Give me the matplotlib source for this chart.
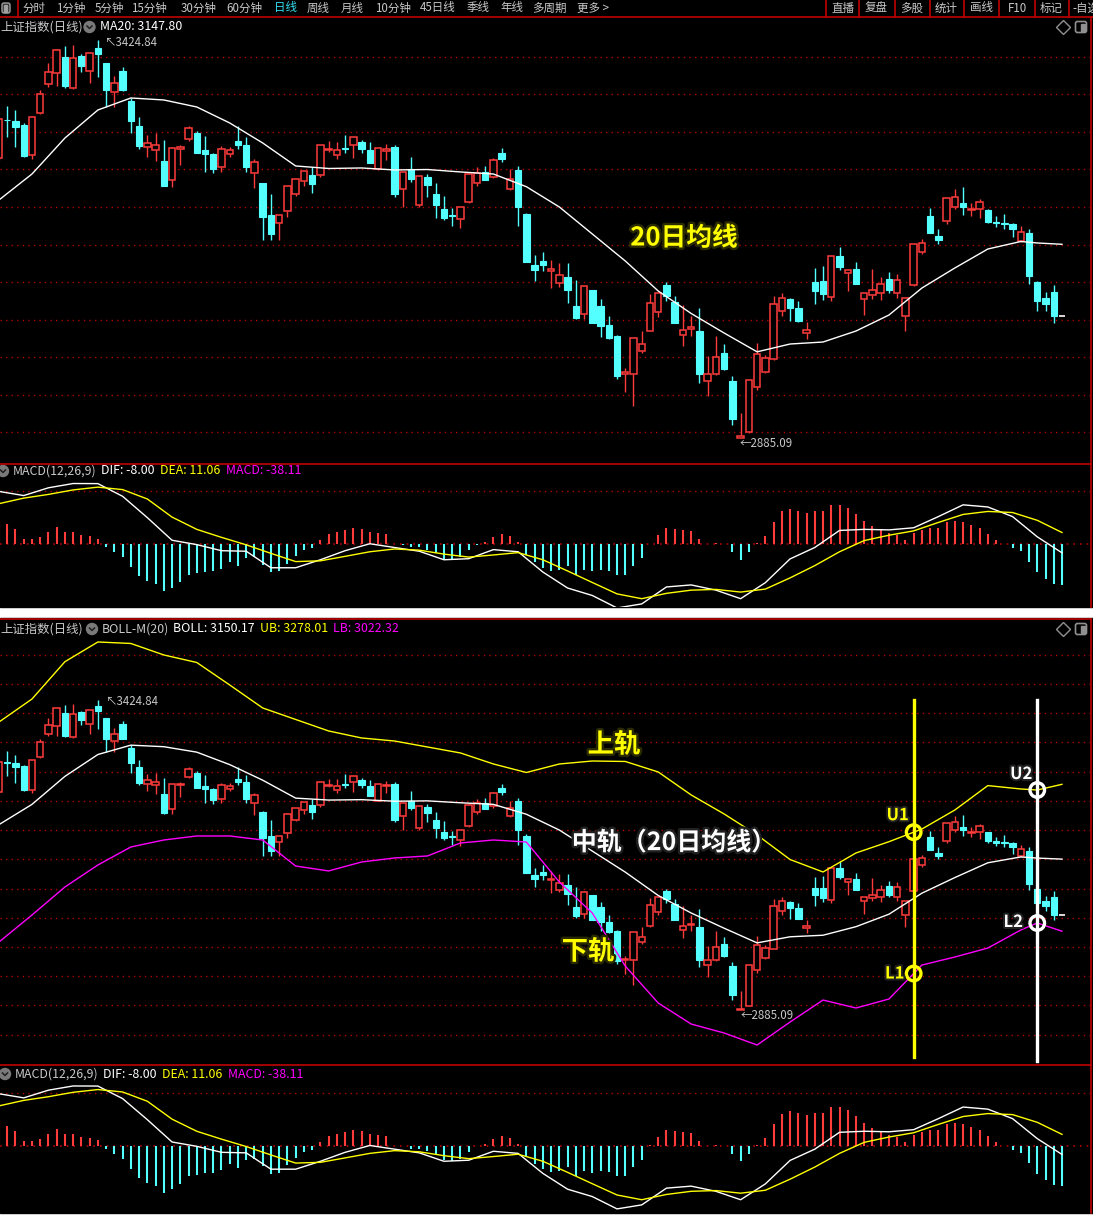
import numpy as np
import matplotlib
matplotlib.use('Agg')
import matplotlib.pyplot as plt
from matplotlib.patches import Rectangle, Circle, FancyBboxPatch
import matplotlib.patheffects as pe

plt.rcParams['font.family'] = ['Noto Sans CJK SC', 'DejaVu Sans']

W, H = 1093, 1221

# ---------------- daily candles (上证指数 日线) ----------------
opens = [3264.4, 3317.0, 3315.0, 3309.6, 3268.5, 3325.5, 3364.8, 3379.7, 3401.4, 3360.2,
         3403.2, 3383.2, 3413.6, 3393.3, 3353.9, 3382.4, 3342.1, 3308.2, 3279.4, 3276.1,
         3260.8, 3234.6, 3277.5, 3291.0, 3298.3, 3275.7, 3270.3, 3253.1, 3270.7, 3287.9,
         3282.1, 3244.9, 3230.5, 3187.6, 3177.1, 3193.4, 3216.0, 3234.1, 3241.8, 3242.2,
         3275.3, 3268.5, 3278.4, 3282.1, 3286.1, 3275.7, 3249.5, 3274.3, 3279.4, 3222.4,
         3249.5, 3201.5, 3238.7, 3216.0, 3195.7, 3188.2, 3181.7, 3205.6, 3230.5, 3245.9,
         3239.5, 3271.6, 3223.2, 3248.6, 3188.9, 3119.8, 3125.2, 3112.0, 3094.9, 3103.5,
         3064.2, 3052.9, 3085.5, 3064.2, 3038.4, 3023.5, 2972.4, 2971.5, 3003.6, 3030.7,
         3056.4, 3092.6, 3069.2, 3024.4, 3033.4, 3030.3, 2962.9, 2971.5, 3000.0, 2962.5,
         2885.4, 2892.9, 2954.7, 2975.1, 2991.9, 3057.8, 3073.7, 3061.9, 3027.1, 3096.7,
         3098.1, 3076.8, 3132.0, 3108.5, 3113.9, 3074.1, 3079.5, 3081.4, 3100.8, 3081.4,
         3051.0, 3092.2, 3137.8, 3186.2, 3159.1, 3179.8, 3198.8, 3204.2, 3193.9, 3195.3,
         3194.3, 3178.5, 3177.1, 3175.4, 3152.7, 3162.7, 3096.3, 3075.0, 3082.7, 3051.0]
highs = [3320.4, 3335.4, 3329.9, 3311.9, 3320.4, 3357.1, 3393.3, 3412.2, 3416.7, 3418.1,
         3405.9, 3408.0, 3424.84, 3394.0, 3376.0, 3387.8, 3345.8, 3320.0, 3296.0, 3298.3,
         3289.3, 3278.5, 3282.5, 3308.2, 3301.9, 3294.7, 3272.0, 3281.1, 3280.2, 3308.2,
         3293.7, 3263.1, 3231.0, 3216.0, 3188.0, 3227.3, 3236.4, 3247.6, 3252.2, 3282.5,
         3287.9, 3286.5, 3295.6, 3293.3, 3289.3, 3286.1, 3278.4, 3283.8, 3282.5, 3246.3,
         3265.8, 3240.8, 3243.2, 3230.5, 3213.3, 3196.6, 3198.4, 3243.1, 3252.2, 3254.0,
         3264.4, 3278.0, 3249.5, 3254.0, 3190.7, 3132.9, 3137.0, 3126.5, 3122.1, 3122.1,
         3099.4, 3091.7, 3085.9, 3073.2, 3050.6, 3024.9, 2979.7, 3020.8, 3030.3, 3080.4,
         3081.8, 3096.3, 3077.7, 3065.5, 3050.6, 3061.0, 2996.4, 3023.5, 3012.6, 2969.2,
         2918.7, 2963.8, 3013.6, 2997.7, 3077.7, 3082.2, 3075.4, 3070.9, 3042.1, 3116.1,
         3118.4, 3132.4, 3143.8, 3113.4, 3123.8, 3081.8, 3114.3, 3103.1, 3110.3, 3107.6,
         3075.4, 3148.2, 3154.6, 3196.6, 3168.2, 3210.6, 3222.4, 3225.1, 3203.4, 3208.8,
         3195.7, 3186.2, 3189.3, 3177.1, 3172.6, 3168.2, 3098.1, 3083.1, 3092.6, 3051.0]
lows = [3262.1, 3293.3, 3280.2, 3265.8, 3263.1, 3324.0, 3361.5, 3362.5, 3360.2, 3359.0,
        3381.1, 3366.1, 3374.3, 3334.4, 3334.4, 3356.1, 3298.3, 3276.6, 3266.6, 3261.2,
        3226.5, 3225.9, 3255.4, 3288.3, 3271.5, 3246.3, 3244.1, 3246.3, 3266.6, 3277.5,
        3246.3, 3224.6, 3153.7, 3153.7, 3153.7, 3184.4, 3213.3, 3226.9, 3217.8, 3238.7,
        3273.0, 3263.1, 3272.0, 3264.4, 3271.2, 3258.0, 3248.6, 3262.1, 3212.4, 3198.8,
        3232.7, 3198.8, 3212.4, 3183.9, 3180.8, 3172.6, 3170.3, 3203.4, 3226.9, 3234.6,
        3237.3, 3259.8, 3221.5, 3173.1, 3123.8, 3098.5, 3112.0, 3089.0, 3090.3, 3068.6,
        3046.1, 3046.1, 3041.1, 3022.5, 3019.0, 2964.8, 2948.0, 2928.6, 3000.8, 3030.3,
        3049.7, 3071.4, 3041.1, 3010.3, 3023.5, 2960.2, 2942.1, 2971.0, 2978.0, 2902.8,
        2885.09, 2891.5, 2950.3, 2973.7, 2991.5, 3050.6, 3044.2, 3042.9, 3019.0, 3066.9,
        3072.3, 3071.4, 3113.0, 3084.9, 3093.6, 3052.0, 3074.1, 3072.3, 3082.2, 3075.4,
        3030.3, 3091.8, 3134.7, 3163.2, 3148.2, 3175.4, 3195.3, 3187.6, 3186.6, 3183.1,
        3176.3, 3170.9, 3168.2, 3157.3, 3151.4, 3093.6, 3057.8, 3057.8, 3041.5, 3051.0]
closes = [3317.3, 3315.7, 3307.3, 3267.6, 3320.0, 3351.6, 3381.1, 3411.3, 3362.9, 3400.0,
          3390.0, 3406.8, 3405.9, 3357.1, 3366.1, 3357.1, 3315.4, 3281.1, 3284.8, 3282.1,
          3227.3, 3278.0, 3279.4, 3305.1, 3272.0, 3270.7, 3250.3, 3276.6, 3275.3, 3282.9,
          3253.1, 3259.0, 3185.3, 3161.8, 3187.6, 3226.9, 3236.0, 3247.2, 3229.6, 3282.1,
          3277.1, 3275.7, 3277.5, 3292.9, 3277.5, 3258.5, 3278.0, 3276.6, 3215.6, 3245.9,
          3236.8, 3240.4, 3227.8, 3201.5, 3183.9, 3186.2, 3198.0, 3242.7, 3244.9, 3235.0,
          3262.1, 3263.9, 3236.0, 3198.8, 3124.2, 3113.0, 3119.8, 3113.9, 3105.8, 3086.3,
          3048.3, 3091.3, 3041.5, 3037.5, 3021.2, 2969.6, 2974.7, 3020.4, 3012.2, 3067.8,
          3081.4, 3078.1, 3041.5, 3031.2, 3035.7, 2972.4, 2971.5, 2994.6, 2978.3, 2910.5,
          2887.2, 2963.4, 2999.1, 2993.2, 3066.9, 3075.0, 3061.9, 3043.8, 3031.2, 3084.5,
          3080.4, 3132.0, 3117.5, 3113.0, 3094.0, 3081.4, 3085.5, 3093.6, 3085.9, 3099.0,
          3075.0, 3147.8, 3149.2, 3163.6, 3153.7, 3210.2, 3211.6, 3198.8, 3195.7, 3205.6,
          3178.5, 3176.3, 3175.8, 3168.2, 3164.9, 3105.2, 3071.4, 3066.5, 3051.0, 3051.0]

# ---------------- MA20 / BOLL (sampled sessions) ----------------
band_idx = [0, 4, 8, 12, 16, 20, 24, 28, 32, 36, 40, 44, 48, 52, 56, 60, 64, 68, 72, 76,
            80, 84, 88, 92, 96, 100, 104, 108, 112, 116, 120, 124, 126, 129]
ma20 = [3207.9, 3243.1, 3291.9, 3329.9, 3346.2, 3343.5, 3334.0, 3312.3, 3285.2, 3254.0,
        3250.6, 3251.3, 3248.6, 3249.2, 3245.9, 3243.1, 3225.9, 3198.4, 3161.8, 3125.2,
        3084.5, 3054.0, 3027.5, 3002.0, 3012.6, 3015.3, 3030.2, 3051.9, 3088.5, 3115.7,
        3141.4, 3151.6, 3149.6, 3147.8]
boll_ub = [3386.5, 3426.5, 3491.5, 3525.8, 3523.2, 3503.2, 3490.1, 3450.9, 3410.9, 3390.9,
           3370.9, 3358.7, 3353.4, 3343.0, 3332.6, 3313.4, 3298.6, 3313.4, 3318.6, 3317.8,
           3299.5, 3259.5, 3226.4, 3189.8, 3147.1, 3125.4, 3158.5, 3178.1, 3200.2, 3233.3,
           3275.8, 3269.9, 3268.1, 3278.0]
boll_lb = [3003.5, 3050.5, 3099.3, 3137.6, 3168.9, 3181.1, 3188.1, 3188.1, 3181.1, 3135.8,
           3127.2, 3142.8, 3149.8, 3153.3, 3175.9, 3181.1, 3177.6, 3107.9, 3054.0, 2961.7,
           2897.3, 2860.7, 2845.1, 2824.2, 2864.2, 2902.5, 2888.6, 2904.3, 2963.4, 2977.4,
           2993.0, 3024.4, 3036.6, 3022.3]

# ---------------- MACD(12,26,9) ----------------
macd_idx = list(range(0, 130, 3))
dif = [49.6, 45.7, 53.0, 57.0, 56.9, 45.0, 25.0, 3.8, -0.3, -6.0, -6.5, -22.0, -22.0, -14.5,
       -6.0, 0.5, -3.0, -6.5, -14.5, -13.5, -5.0, -7.0, -26.0, -41.0, -48.0, -59.7, -55.9,
       -40.0, -38.1, -43.0, -51.0, -36.0, -13.7, -3.0, 13.0, 14.0, 13.5, 15.5, 26.0, 37.0,
       35.0, 26.0, 7.0, -8.0]
dea = [38.1, 43.3, 46.8, 51.0, 53.6, 51.3, 42.5, 25.5, 14.0, 6.5, -0.5, -8.5, -16.2, -15.5,
       -11.3, -7.0, -4.4, -5.5, -9.2, -12.0, -10.0, -7.8, -14.5, -25.0, -35.8, -46.5, -51.0,
       -46.0, -43.0, -42.3, -44.8, -42.0, -31.5, -20.0, -7.0, 3.5, 8.5, 12.6, 20.5, 28.0,
       30.8, 29.8, 22.5, 11.06]
macd_hist = [21.5, 19.0, 14.2, 4.7, 4.7, 6.6, 11.4, 16.1, 11.4, 11.4, 8.5, 7.6, 5.4,
             -2.5, -7.3, -12.0, -21.5, -30.0, -34.8, -37.6, -44.2, -40.8, -35.7, -28.4, -27.2,
             -25.6, -25.3, -23.1, -16.7, -20.5, -13.0, -12.0, -19.3, -26.2, -25.3, -18.3, -11.4,
             -5.7, -3.5,
             3.8, 9.5, 11.7, 13.3, 15.2, 14.2, 11.1, 10.4, 9.5,
             0.3, -0.3,
             -2.5, -2.5, -5.1, -8.2, -13.6, -14.2, -12.0, -5.7, -0.3,
             2.2, 7.0, 9.8, 7.9, 2.2,
             -10.4, -16.7, -22.1, -24.8, -24.1, -20.0, -28.9, -24.1, -25.4, -24.1, -24.8, -28.6,
             -28.6, -20.0, -13.0, 0.5,
             8.6, 14.9, 14.0, 13.3, 12.4, 4.8, 0.3, 1.0, 0.3,
             -7.3, -14.3, -7.3,
             1.3, 7.6, 20.6, 30.8, 33.3, 31.4, 29.2, 31.4, 31.4, 37.1, 37.1, 34.3, 28.6, 21.9,
             17.1, 14.0, 10.8, 8.6, 3.8, 10.2, 13.3, 14.9, 15.6, 21.0, 22.2, 21.3, 18.4, 15.6,
             9.5, 3.8, 0.3,
             -3.5, -6.7, -16.2, -26.4, -32.1, -36.8, -38.11]

# sessions marked by the vertical guide lines (U1/L1, U2/L2)
mark_1 = 111
mark_2 = 126

# ---------------- header texts ----------------
toolbar_left = [("分时", 22.8), ("1分钟", 56), ("5分钟", 94.7), ("15分钟", 131.5),
                ("30分钟", 180.6), ("60分钟", 226), ("日线", 273.6), ("周线", 307),
                ("月线", 341), ("10分钟", 374.6), ("45日线", 420), ("季线", 466.5),
                ("年线", 500.9), ("多周期", 532), ("更多 >", 577)]
toolbar_right = [("直播", 831), ("复盘", 864.5), ("多股", 899.8), ("统计", 934.4),
                 ("画线", 969.6), ("F10", 1007.4), ("标记", 1040), ("-自选", 1072.6)]

# ---------------- colours ----------------
RED = '#ff3c3c'
CYAN = '#54ffff'
YEL = '#ffff00'
MAG = '#ff00ff'
GRID = '#b00000'
GRAYTXT = '#c8c8c8'

fig = plt.figure(figsize=(W / 100, H / 100), dpi=100)
fig.patch.set_facecolor('white')


def pax(x0, y0, x1, y1, z=1):
    a = fig.add_axes([x0 / W, 1 - y1 / H, (x1 - x0) / W, (y1 - y0) / H], zorder=z)
    a.set_facecolor('none')
    a.axis('off')
    return a


bg = pax(0, 0, W, H, z=0)
bg.set_xlim(0, W)
bg.set_ylim(H, 0)
bg.add_patch(Rectangle((0, 0), W, 607, color='black'))
bg.add_patch(Rectangle((0, 618), W, 1213 - 618, color='black'))

XL = (0.12, 132.4)
ax1 = pax(0, 17, 1090, 464)
ax1.set_xlim(*XL); ax1.set_ylim(2849.9, 3456.0)
ax2 = pax(0, 464, 1090, 607)
ax2.set_xlim(*XL); ax2.set_ylim(-58.8, 75.3)
ax3 = pax(0, 619, 1090, 1065)
ax3.set_xlim(*XL); ax3.set_ylim(2789.4, 3565.8)
ax4 = pax(0, 1065, 1090, 1213)
ax4.set_xlim(*XL); ax4.set_ylim(-63.6, 76.9)

grid_levels = 3402.0 - 50.9 * np.arange(-2, 12)
DOT = (0, (1, 3))
for lv in grid_levels:
    if 2870 < lv < 3420:
        ax1.axhline(lv, color=GRID, ls=DOT, lw=1, zorder=0)
    ax3.axhline(lv, color=GRID, ls=DOT, lw=1, zorder=0)
for a in (ax2, ax4):
    a.axhline(0, color=GRID, ls=DOT, lw=1.2, zorder=0)
    a.axhline(50, color=GRID, ls=DOT, lw=1, zorder=0)


def draw_candles(ax):
    bw = 0.78
    for i in range(len(opens)):
        o, h, l, c = opens[i], highs[i], lows[i], closes[i]
        top, bot = max(o, c), min(o, c)
        if c > o:
            ax.vlines(i, top, h, color=RED, lw=1.0, zorder=3)
            ax.vlines(i, l, bot, color=RED, lw=1.0, zorder=3)
            ax.add_patch(Rectangle((i - bw / 2, bot), bw, top - bot, facecolor='black',
                                   edgecolor=RED, lw=1.1, zorder=3))
        elif c < o:
            ax.vlines(i, l, h, color=CYAN, lw=1.0, zorder=3)
            ax.add_patch(Rectangle((i - bw / 2, bot), bw, top - bot, facecolor=CYAN,
                                   edgecolor=CYAN, lw=0.8, zorder=3))
        else:
            ax.hlines(c, i - bw / 2, i + bw / 2, color='white', lw=1.2, zorder=3)


draw_candles(ax1)
draw_candles(ax3)

ax1.plot(band_idx, ma20, color='white', lw=1.0, zorder=4)
ax3.plot(band_idx, ma20, color='white', lw=1.0, zorder=4)
ax3.plot(band_idx, boll_ub, color=YEL, lw=1.0, zorder=4)
ax3.plot(band_idx, boll_lb, color=MAG, lw=1.0, zorder=4)

for a in (ax2, ax4):
    hx = np.arange(len(macd_hist))
    hv = np.array(macd_hist)
    cols = [RED if v > 0 else CYAN for v in hv]
    a.vlines(hx, 0, hv, colors=cols, lw=1.5, zorder=2)
    a.plot(macd_idx, dif, color='white', lw=1.0, zorder=3)
    a.plot(macd_idx, dea, color=YEL, lw=1.0, zorder=3)

# extreme labels
ihi = int(np.argmax(highs)); ilo = int(np.argmin(lows))
for a, dh, dl in ((ax1, (6, -3), (-1, -5)), (ax3, (7, -2), (0, -5))):
    a.annotate('↖' + f'{highs[ihi]:.2f}', xy=(ihi, highs[ihi]), xytext=dh,
               textcoords='offset pixels', ha='left', va='center', color=GRAYTXT,
               fontsize=8.3, zorder=6)
    a.annotate('←' + f'{lows[ilo]:.2f}', xy=(ilo, lows[ilo]), xytext=dl,
               textcoords='offset pixels', ha='left', va='center', color=GRAYTXT,
               fontsize=8.3, zorder=6)

# BOLL guide lines and circles
u1 = np.interp(mark_1, band_idx, boll_ub); l1 = np.interp(mark_1, band_idx, boll_lb)
u2 = np.interp(mark_2, band_idx, boll_ub); l2 = np.interp(mark_2, band_idx, boll_lb)
ax3.axvline(mark_1, ymin=0.018, ymax=0.818, color=YEL, lw=2.4, zorder=5)
ax3.axvline(mark_2, ymin=0.009, ymax=0.818, color='white', lw=2.4, zorder=5)
ax3.scatter([mark_1, mark_1], [u1, l1], s=110, facecolors='none', edgecolors=YEL,
            linewidths=2.4, zorder=6)
ax3.scatter([mark_2, mark_2], [u2, l2], s=110, facecolors='none', edgecolors='white',
            linewidths=2.4, zorder=6)
stroke = [pe.withStroke(linewidth=3, foreground='#202020')]
for lab, xx, yy, off, col in (("U1", mark_1, u1, (-16, 17), YEL), ("L1", mark_1, l1, (-19, 0), YEL),
                              ("U2", mark_2, u2, (-16, 16), 'white'), ("L2", mark_2, l2, (-24, 1), 'white')):
    ax3.annotate(lab, xy=(xx, yy), xytext=off, textcoords='offset pixels', ha='center',
                 va='center', color=col, fontsize=12, fontweight='bold', zorder=7,
                 path_effects=stroke)

# ---------------- overlay texts / frame ----------------
fg = pax(0, 0, W, H, z=8)
fg.set_xlim(0, W)
fg.set_ylim(H, 0)


def txt(x, y, s, c, fs=8.9, **kw):
    fg.text(x, y, s, color=c, fontsize=fs, ha=kw.pop('ha', 'left'), va='center', **kw)


# toolbar
fg.plot([0, W], [17, 17], color='#c00000', lw=1.2)
fg.plot([17.5, 17.5], [0, 17], color='#c00000', lw=1.2)
fg.add_patch(FancyBboxPatch((2, 3), 8, 10, boxstyle='round,pad=0,rounding_size=2',
                            facecolor='#303030', edgecolor='#a0a0a0', lw=1))
fg.add_patch(Rectangle((3.5, 4.5), 3, 7, color='#a0a0a0'))
for s, x in toolbar_left:
    txt(x, 8, s, '#33ddee' if s == '日线' else GRAYTXT, 8.3)
for s, x in toolbar_right:
    txt(x, 8, s, GRAYTXT, 8.3)
for x in [825.7, 859.2, 894.5, 929.8, 964.3, 999.3, 1034.5, 1069.1]:
    fg.plot([x, x], [0, 17], color='#c00000', lw=1.2)

# panel borders
for y in (464, 619, 1065):
    fg.plot([0, 1090.5], [y, y], color='#c00000', lw=1.2)
fg.plot([1090.5, 1090.5], [17, 607], color='#c00000', lw=1.2)
fg.plot([1090.5, 1090.5], [619, 1213], color='#c00000', lw=1.2)


def icon(x, y):
    fg.add_patch(Circle((x, y), 5.5, color='#7a7a7a'))
    fg.plot([x - 2.5, x, x + 2.5], [y - 1, y + 1.5, y - 1], color='#202020', lw=1.1)


def corner_icons(y):
    fg.plot([1063], [y], marker='D', ms=7, mfc='none', mec='#909090', mew=1)
    fg.add_patch(FancyBboxPatch((1075.5, y - 5.5), 11, 11, boxstyle='round,pad=0,rounding_size=2',
                                facecolor='none', edgecolor='#909090', lw=1.2))
    fg.add_patch(Rectangle((1081, y - 3.5), 3.5, 7, color='#909090'))


# top main header
txt(0, 27, "上证指数(日线)", GRAYTXT)
icon(89.5, 27)
txt(100, 27, "MA20: 3147.80", 'white')
corner_icons(27)
# top MACD header
icon(3, 471)
txt(13, 471, "MACD(12,26,9)", GRAYTXT)
txt(101, 471, "DIF: -8.00", 'white')
txt(160, 471, "DEA: 11.06", YEL)
txt(226, 471, "MACD: -38.11", MAG)
# bottom header
txt(0, 629, "上证指数(日线)", GRAYTXT)
icon(92, 629)
txt(102, 629, "BOLL-M(20)", GRAYTXT)
txt(173, 629, "BOLL: 3150.17", 'white')
txt(260, 629, "UB: 3278.01", YEL)
txt(333, 629, "LB: 3022.32", MAG)
corner_icons(629)
# bottom MACD header
icon(5, 1074)
txt(15, 1074, "MACD(12,26,9)", GRAYTXT)
txt(103, 1074, "DIF: -8.00", 'white')
txt(162, 1074, "DEA: 11.06", YEL)
txt(228, 1074, "MACD: -38.11", MAG)

# big annotations
big = dict(fontweight='bold', ha='center', path_effects=[pe.withStroke(linewidth=3.5, foreground='#2a2a00')])
txt(684, 238, "20日均线", YEL, 18.5, **big)
txt(614, 745, "上轨", YEL, 19, **big)
big2 = dict(fontweight='bold', ha='center', path_effects=[pe.withStroke(linewidth=3.5, foreground='#202020')])
txt(674, 843, "中轨（20日均线）", 'white', 18, **big2)
txt(588, 952, "下轨", YEL, 19, **big)

fig.savefig('out.png', dpi=100, facecolor='white')
